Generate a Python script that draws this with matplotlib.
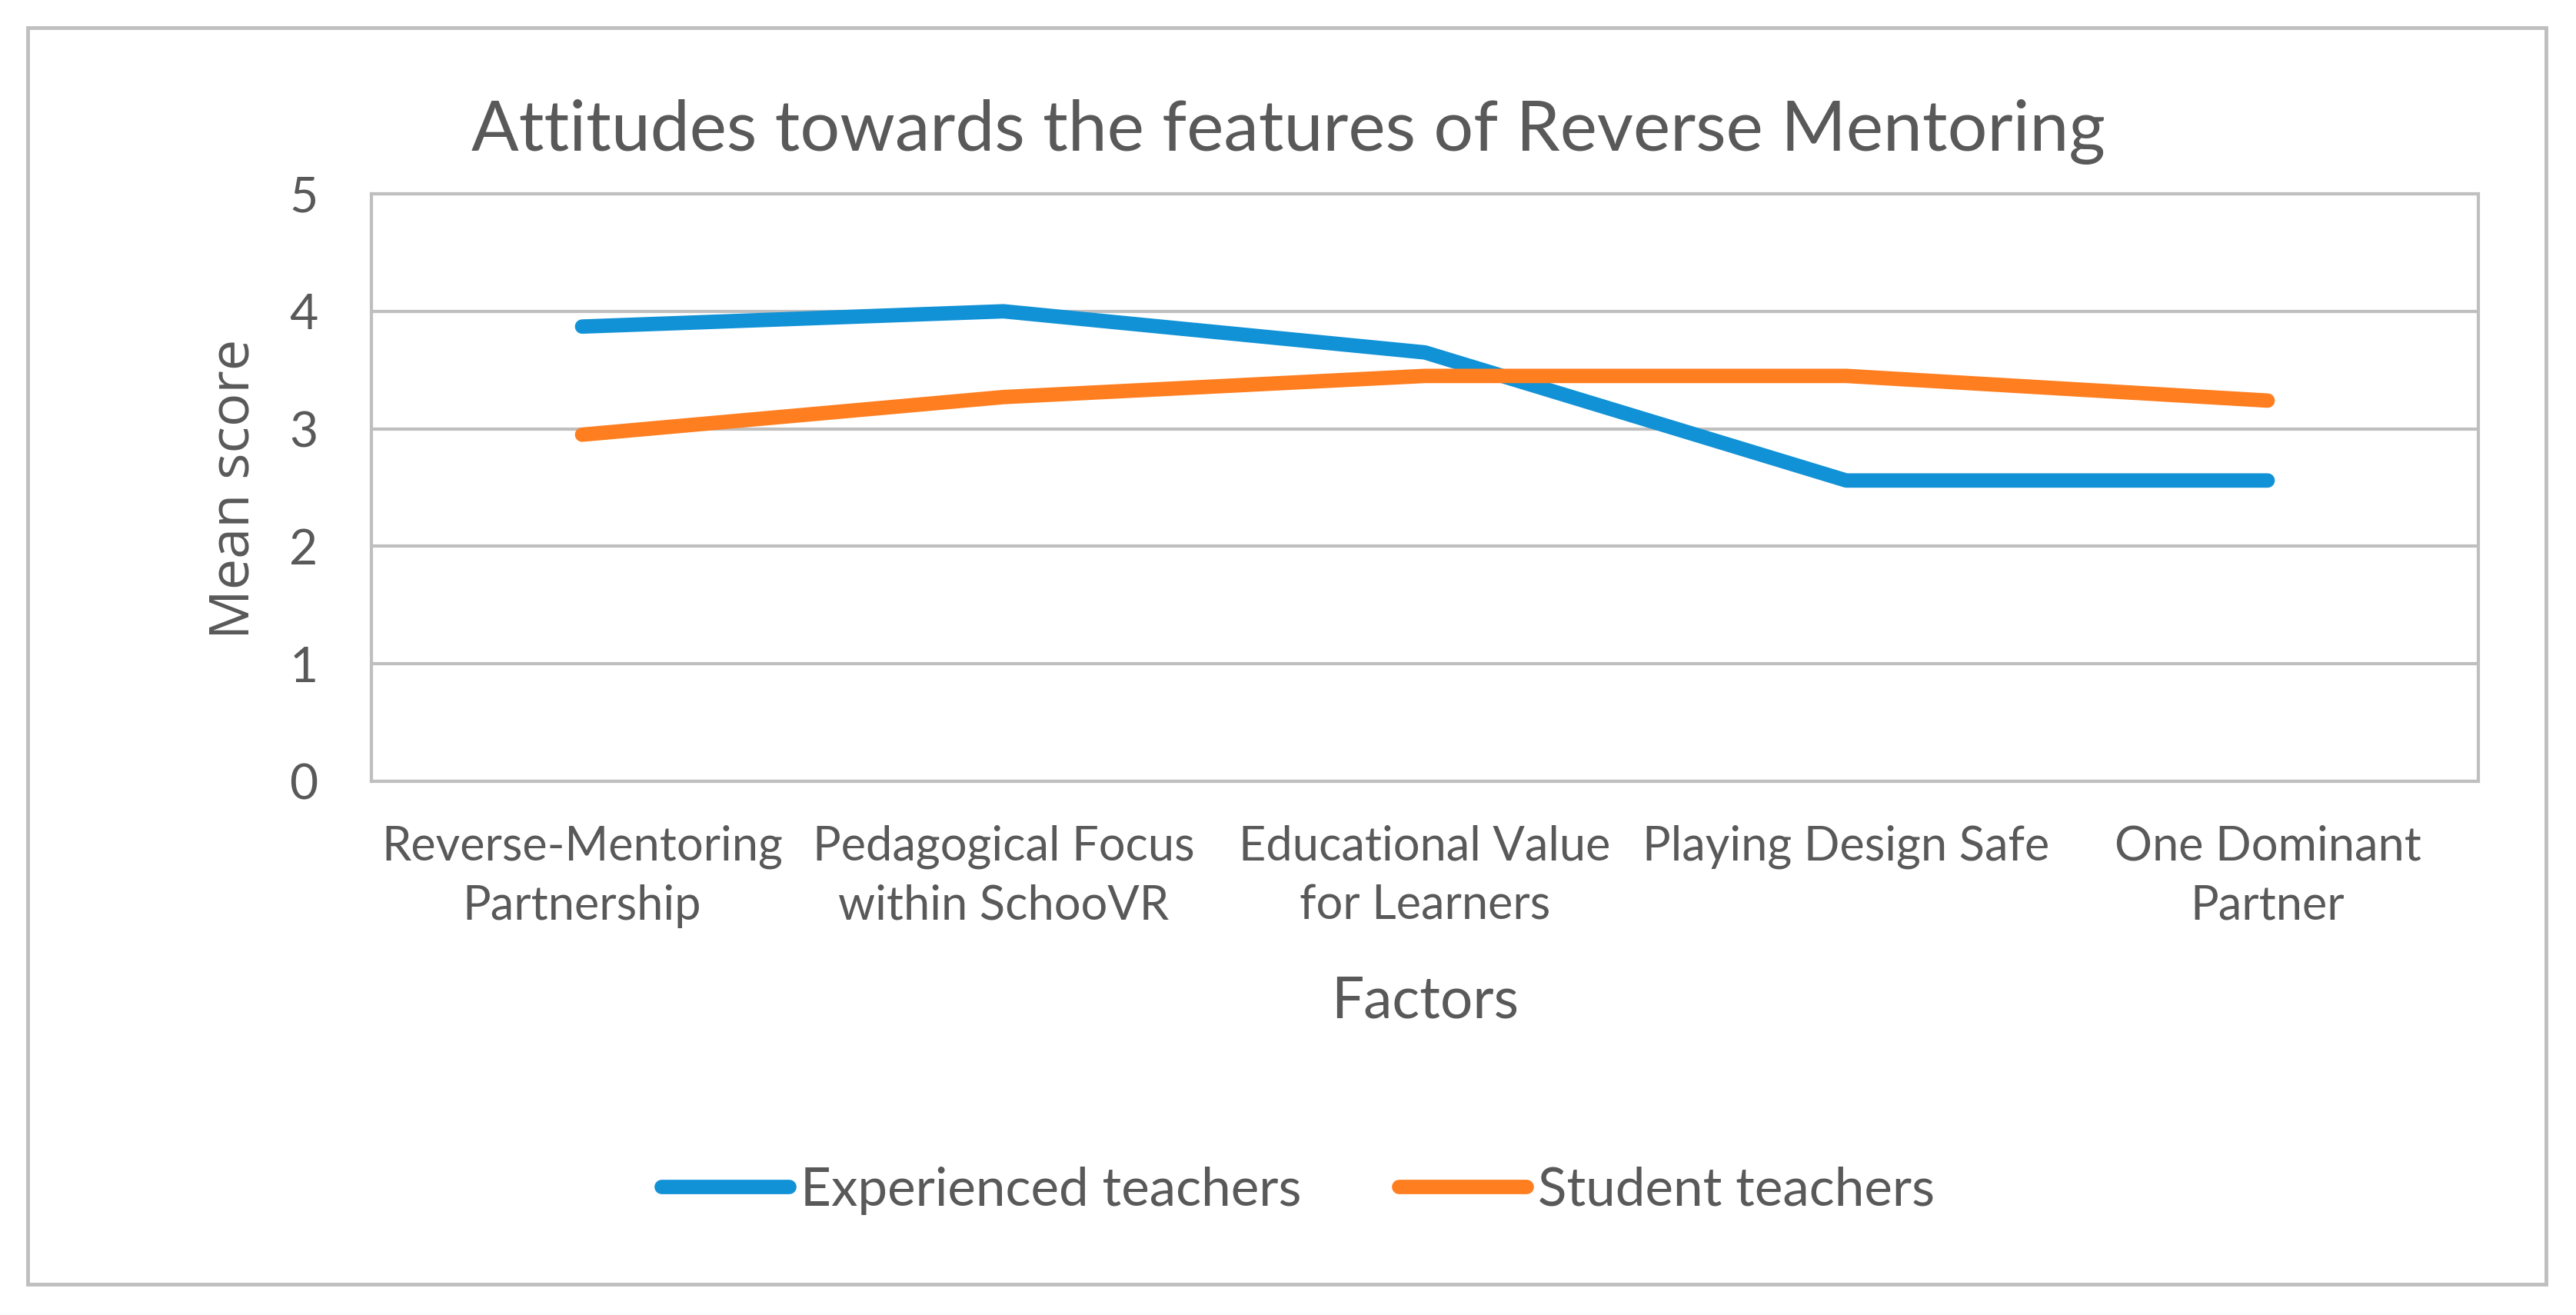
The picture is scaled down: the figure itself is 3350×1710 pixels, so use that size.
import matplotlib
matplotlib.use("Agg")
import matplotlib.pyplot as plt
from matplotlib.patches import Rectangle

categories = ["Reverse-Mentoring\nPartnership", "Pedagogical Focus\nwithin SchooVR",
              "Educational Value\nfor Learners", "Playing Design Safe", "One Dominant\nPartner"]
experienced = [3.87, 4.00, 3.65, 2.56, 2.56]
student = [2.95, 3.27, 3.45, 3.45, 3.24]
series_names = ["Experienced teachers", "Student teachers"]
yticks = [0, 1, 2, 3, 4, 5]

W, H, DPI = 3350, 1710, 100
BLUE = "#1192D6"
ORANGE = "#FF7E20"
GRID = "#BFBFBF"
TXT = "#595959"
FONT = "Lato"

fig = plt.figure(figsize=(W / DPI, H / DPI), dpi=DPI)
renderer = fig.canvas.get_renderer()


def fit_size(s, family, target_px, base=40):
    t = fig.text(0, 0, s, fontsize=base, family=family)
    w = t.get_window_extent(renderer=renderer).width
    t.remove()
    return base * target_px / w


# outer chart border
fig.patches.append(Rectangle((36 / W, 1 - 1670 / H), (3311 - 36) / W, (1670 - 36) / H,
                             transform=fig.transFigure, fill=False, edgecolor=GRID, lw=3.5))

ax = fig.add_axes([483 / W, 1 - 1016 / H, (3223 - 483) / W, (1016 - 252) / H])
x = list(range(len(categories)))
ax.plot(x, experienced, color=BLUE, lw=13.5, solid_capstyle="round", solid_joinstyle="round",
        label=series_names[0])
ax.plot(x, student, color=ORANGE, lw=13.5, solid_capstyle="round", solid_joinstyle="round",
        label=series_names[1])

ax.set_xlim(-0.5, len(categories) - 0.5)
ax.set_ylim(0, 5)
ax.set_yticks(yticks)
ax.set_xticks(x)

tick_fs = fit_size("Reverse-Mentoring", FONT, 521)
ax.set_xticklabels(categories, fontsize=tick_fs, color=TXT, family=FONT, linespacing=1.42)
ax.set_yticklabels([str(v) for v in yticks], fontsize=tick_fs * 1.05, color=TXT, family=FONT)
ax.tick_params(axis="x", length=0, pad=41)
ax.tick_params(axis="y", length=0, pad=50)
for lab in ax.get_xticklabels():
    lab.set_verticalalignment("top")

ax.grid(axis="y", color=GRID, lw=3)
ax.set_axisbelow(True)
for s in ax.spines.values():
    s.set_color(GRID)
    s.set_linewidth(3)

# title
title_fs = fit_size("Attitudes towards the features of Reverse Mentoring", FONT, 2125)
fig.text(1675 / W, 1 - 196 / H, "Attitudes towards the features of Reverse Mentoring",
         ha="center", va="baseline", fontsize=title_fs, color=TXT, family=FONT)

# axis labels
fx_fs = fit_size("Factors", FONT, 244)
ax.set_xlabel("Factors", fontsize=fx_fs, color=TXT, family=FONT)
ax.xaxis.set_label_coords(0.5, -(1323 - 1016) / (1016 - 252), transform=ax.transAxes)
ax.xaxis.label.set_verticalalignment("baseline")

ms_fs = fit_size("Mean score", "Open Sans", 390)
ax.set_ylabel("Mean score", fontsize=ms_fs, color=TXT, family="Open Sans")
ax.yaxis.set_label_coords(-(483 - 305) / (3223 - 483), (1016 - 636) / (1016 - 252),
                          transform=ax.transAxes)
ax.yaxis.label.set_verticalalignment("center")

# legend
leg_fs = fit_size("Experienced teachers", FONT, 650)
fs_px = leg_fs * DPI / 72
leg = fig.legend(loc="center", bbox_to_anchor=(1688 / W, 1 - 1548 / H), ncol=2,
                 frameon=False, prop={"family": FONT, "size": leg_fs},
                 handlelength=166 / fs_px, handletextpad=15 / fs_px,
                 columnspacing=126 / fs_px, borderpad=0)
for t in leg.get_texts():
    t.set_color(TXT)
for h in leg.get_lines():
    h.set_solid_capstyle("round")

fig.savefig("out.png", dpi=DPI, facecolor="white")
